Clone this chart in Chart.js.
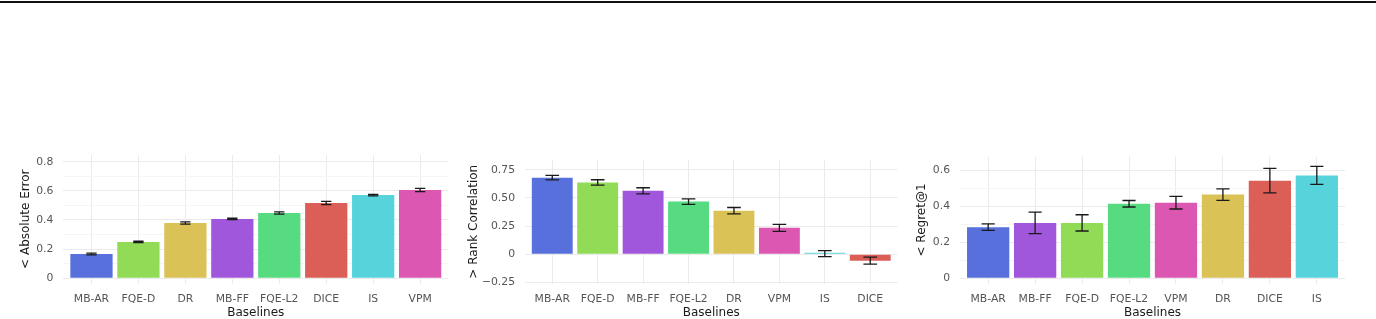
<!DOCTYPE html>
<html>
<head>
<meta charset="utf-8">
<script src="https://cdn.jsdelivr.net/npm/chart.js@4.4.1/dist/chart.umd.min.js"></script>
<style>
  html, body { margin: 0; padding: 0; background: #fff; overflow: hidden; }
  .page { position: relative; width: 1376px; height: 319px; }
  .rule { position: absolute; left: 0; top: 1px; width: 1376px; height: 2px; background: #111; }
  canvas { position: absolute; top: 0; }
</style>
</head>
<body>
<div class="page">
  <div class="rule"></div>
  <canvas id="absErr" width="460" height="319" style="left:0"></canvas>
  <canvas id="rankCorr" width="455" height="319" style="left:455px"></canvas>
  <canvas id="regret" width="466" height="319" style="left:910px"></canvas>
</div>
<script>
// absolute error (lower is better)
const absLabels = ['MB-AR', 'FQE-D', 'DR', 'MB-FF', 'FQE-L2', 'DICE', 'IS', 'VPM'];
const absValues = [0.167, 0.249, 0.379, 0.407, 0.448, 0.517, 0.571, 0.606];
const absErrors = [0.006, 0.005, 0.008, 0.005, 0.008, 0.011, 0.005, 0.011];
const absTicks = [0, 0.2, 0.4, 0.6, 0.8];
const absTickText = ['0', '0.2', '0.4', '0.6', '0.8'];

// rank correlation (higher is better)
const rankLabels = ['MB-AR', 'FQE-D', 'MB-FF', 'FQE-L2', 'DR', 'VPM', 'IS', 'DICE'];
const rankValues = [0.679, 0.637, 0.563, 0.467, 0.387, 0.235, 0.006, -0.057];
const rankErrors = [0.02, 0.024, 0.027, 0.024, 0.028, 0.031, 0.027, 0.031];
const rankTicks = [-0.25, 0, 0.25, 0.5, 0.75];
const rankTickText = ['\u22120.25', '0', '0.25', '0.50', '0.75'];

// regret@1 (lower is better)
const regretLabels = ['MB-AR', 'MB-FF', 'FQE-D', 'FQE-L2', 'VPM', 'DR', 'DICE', 'IS'];
const regretValues = [0.283, 0.307, 0.307, 0.413, 0.419, 0.464, 0.541, 0.570];
const regretErrors = [0.018, 0.06, 0.045, 0.018, 0.035, 0.032, 0.068, 0.05];
const regretTicks = [0, 0.2, 0.4, 0.6];
const regretTickText = ['0', '0.2', '0.4', '0.6'];

// seaborn hls(8), one colour per method
const COLORS = {
  'MB-AR': '#5770db',
  'FQE-D': '#91db57',
  DR: '#dbc257',
  'MB-FF': '#a157db',
  'FQE-L2': '#57db80',
  DICE: '#db5f57',
  IS: '#57d3db',
  VPM: '#db57b2',
};

Chart.defaults.font.family = '"DejaVu Sans", sans-serif';

const errorBars = {
  id: 'errorBars',
  afterDatasetsDraw(chart, args, opts) {
    const { ctx, scales: { x, y } } = chart;
    const errs = opts.errors || [];
    const half = x.getPixelForValue(1 + opts.cap / 2) - x.getPixelForValue(1);
    ctx.save();
    ctx.strokeStyle = '#1a1a1a';
    ctx.lineWidth = 1.3;
    chart.data.datasets[0].data.forEach((pt, i) => {
      const px = x.getPixelForValue(pt.x);
      const lo = y.getPixelForValue(pt.y - errs[i]);
      const hi = y.getPixelForValue(pt.y + errs[i]);
      ctx.beginPath();
      ctx.moveTo(px, lo); ctx.lineTo(px, hi);
      ctx.moveTo(px - half, lo); ctx.lineTo(px + half, lo);
      ctx.moveTo(px - half, hi); ctx.lineTo(px + half, hi);
      ctx.stroke();
    });
    ctx.restore();
  },
};

// major ticks plus ggplot-style minor ticks halfway between them
function withMinor(major, min, max) {
  const step = major[1] - major[0];
  const all = [...major];
  for (let v = major[0] - step / 2; v <= max; v += step) {
    if (v >= min) all.push(+v.toFixed(4));
  }
  return all.sort((a, b) => a - b);
}

function isMajor(major, value) {
  return major.some((t) => Math.abs(t - value) < 1e-6);
}

function drawPanel(id, cfg) {
  const ctx = document.getElementById(id).getContext('2d');
  const yTicks = withMinor(cfg.ticks, cfg.min, cfg.max);
  return new Chart(ctx, {
    type: 'bar',
    data: {
      datasets: [{
        data: cfg.labels.map((label, i) => ({ x: i + 1, y: cfg.values[i] })),
        backgroundColor: cfg.labels.map((label) => COLORS[label]),
        borderWidth: 0,
        barPercentage: 0.9,
        categoryPercentage: 1,
        minBarLength: 1.5,
      }],
    },
    plugins: [errorBars],
    options: {
      responsive: false,
      animation: false,
      layout: { padding: { top: cfg.top, right: cfg.right, left: 0, bottom: 0 } },
      plugins: {
        legend: { display: false },
        tooltip: { enabled: false },
        errorBars: { errors: cfg.errors, cap: cfg.cap },
      },
      scales: {
        x: {
          type: 'linear',
          offset: false,
          min: 0.4,
          max: 8.6,
          afterBuildTicks: (scale) => { scale.ticks = cfg.labels.map((label, i) => ({ value: i + 1 })); },
          afterFit: (scale) => { scale.height = 35.5; },
          ticks: {
            autoSkip: false,
            maxRotation: 0,
            padding: 9,
            color: '#555',
            font: { size: 10.8 },
            callback: (value) => cfg.labels[Math.round(value) - 1] ?? '',
          },
          grid: { color: '#ebebeb', drawTicks: false, offset: false },
          border: { display: false },
          title: { display: true, text: 'Baselines', color: '#1a1a1a', font: { size: 12 }, padding: { top: 0, bottom: -1 } },
        },
        y: {
          min: cfg.min,
          max: cfg.max,
          afterBuildTicks: (scale) => { scale.ticks = yTicks.map((value) => ({ value })); },
          afterFit: (scale) => { scale.width = cfg.yWidth; },
          ticks: {
            padding: 10,
            color: '#555',
            font: { size: 10.8 },
            callback: (value) => {
              const k = cfg.ticks.findIndex((t) => Math.abs(t - value) < 1e-6);
              return k >= 0 ? cfg.tickText[k] : '';
            },
          },
          grid: {
            color: (c) => (isMajor(cfg.ticks, c.tick.value) ? '#ebebeb' : '#f5f5f5'),
            drawTicks: false,
          },
          border: { display: false },
          title: {
            display: true,
            text: cfg.title,
            color: '#1a1a1a',
            font: { size: 12 },
            padding: { top: cfg.titlePad, bottom: 0 },
          },
        },
      },
    },
  });
}

drawPanel('absErr', {
  labels: absLabels, values: absValues, errors: absErrors,
  ticks: absTicks, tickText: absTickText, title: '< Absolute Error',
  min: -0.036, max: 0.846, top: 155, right: 11.7, yWidth: 63.3, titlePad: 18.3, cap: 0.22,
});

drawPanel('rankCorr', {
  labels: rankLabels, values: rankValues, errors: rankErrors,
  ticks: rankTicks, tickText: rankTickText, title: '> Rank Correlation',
  min: -0.259, max: 0.836, top: 160, right: 12.5, yWidth: 70, titlePad: 11.8, cap: 0.3,
});

drawPanel('regret', {
  labels: regretLabels, values: regretValues, errors: regretErrors,
  ticks: regretTicks, tickText: regretTickText, title: '< Regret@1',
  min: -0.029, max: 0.675, top: 156.5, right: 31, yWidth: 50, titlePad: 4.8, cap: 0.28,
});
</script>
</body>
</html>
